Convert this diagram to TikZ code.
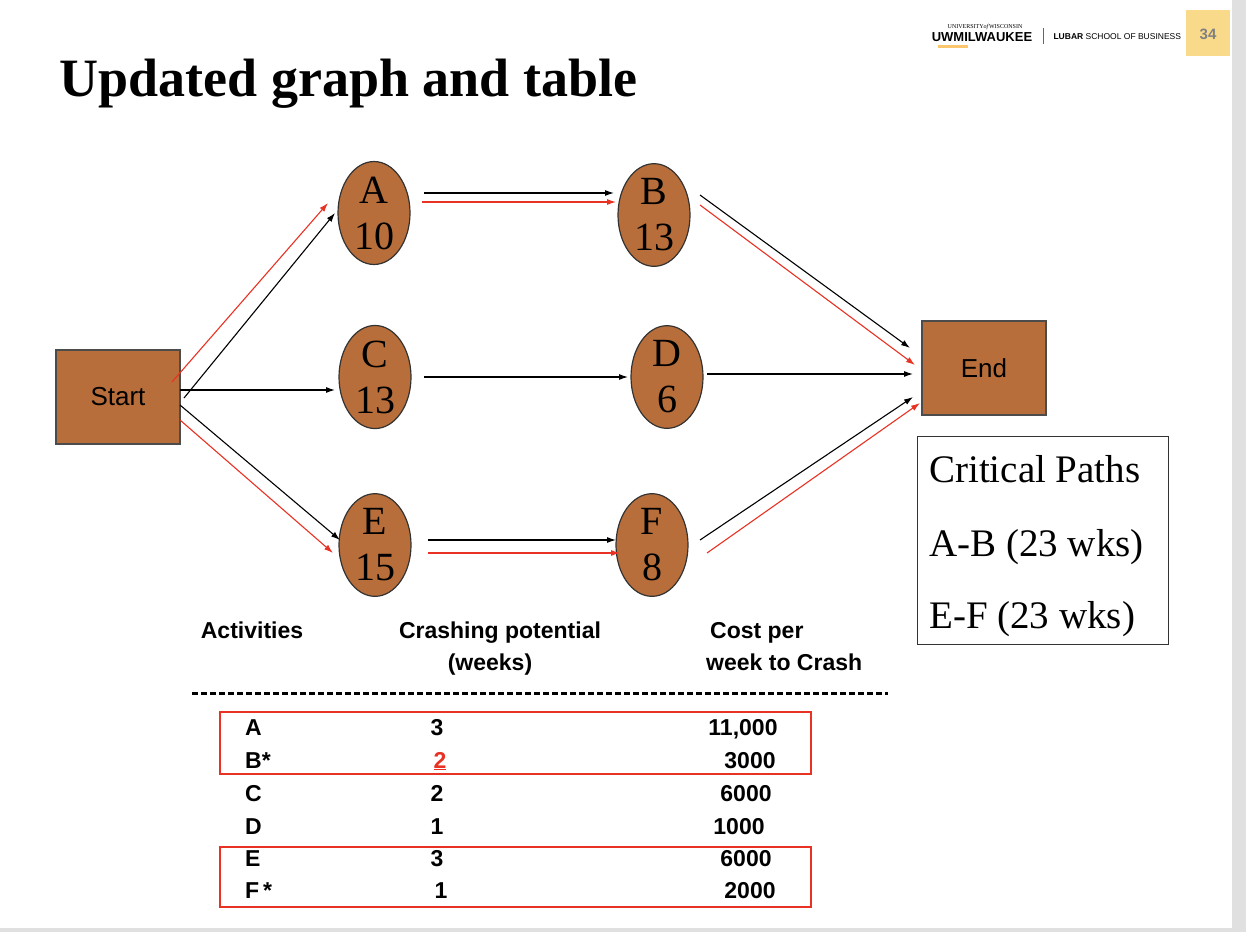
\documentclass[tikz,border=0pt]{standalone}
\usepackage{fontspec}
\setmainfont{Liberation Serif}
\setsansfont{Liberation Sans}
\usetikzlibrary{shapes.geometric,arrows.meta}
\definecolor{brn}{RGB}{183,110,58}
\definecolor{rd}{RGB}{232,50,35}
\definecolor{ylw}{RGB}{249,217,138}
\begin{document}
\begin{tikzpicture}[x=1pt,y=-1pt,
  act/.style={ellipse,draw=black!80,line width=1.2pt,fill=brn,minimum width=72pt,minimum height=100pt,inner sep=0pt,align=center,font=\fontsize{40}{46}\selectfont},
  term/.style={rectangle,draw=black!70,line width=1.5pt,fill=brn,minimum width=124pt,minimum height=94pt,font=\sffamily\fontsize{26}{30}\selectfont},
  blk/.style={-{Latex[length=9pt,width=6pt]},line width=1.1pt},
  red/.style={blk,draw=rd,-{Latex[length=9pt,width=6pt,color=rd]}},
  tb/.style={font=\sffamily\bfseries\fontsize{23}{26}\selectfont,inner sep=0pt,anchor=base},
  cpt/.style={font=\fontsize{39}{44}\selectfont,inner sep=0pt,anchor=base west},
  rbox/.style={draw=rd,line width=1.5pt}]
\fill[black!12] (0,0) rectangle (1246,932);
\fill[white] (0,0) rectangle (1232,928);
\useasboundingbox (0,0) rectangle (1246,932);
% header
\fill[ylw] (1186,10) rectangle (1230,56);
\node[font=\sffamily\bfseries\fontsize{15}{16}\selectfont,text=black!50] (pg) at (1208,34) {34};
\node[font=\fontsize{6}{6}\selectfont] (uw1) at (985,27) {UNIVERSITY\textit{of}WISCONSIN};
\node[font=\sffamily\bfseries\fontsize{13}{14}\selectfont,inner sep=0pt] (uw2) at (982,37) {UWMILWAUKEE};
\fill[ylw!80!orange] (938,45) rectangle (968,48);
\draw[black!60] (1043,28) -- (1043,44);
\node[font=\sffamily\fontsize{8.5}{10}\selectfont,anchor=west] (lub) at (1050,37) {\textbf{LUBAR} SCHOOL OF BUSINESS};
\node[font=\bfseries\fontsize{54}{60}\selectfont,anchor=west] (title) at (56,84) {Updated graph and table};
% nodes
\node[act] (A) at (374,213) {A\\10};
\node[act] (B) at (654,215) {B\\13};
\node[act] (C) at (375,377) {C\\13};
\node[act] (D) at (667,377) {D\\6};
\node[act] (E) at (375,545) {E\\15};
\node[act] (F) at (652,545) {F\\8};
\node[term] (S) at (118,397) {Start};
\node[term] (N) at (984,368) {End};
\draw[black!80,line width=1pt] (917,436) rectangle (1168,644);
\node[cpt] (cp1) at (929,482) {Critical Paths};
\node[cpt] (cp2) at (929,556) {A-B (23 wks)};
\node[cpt] (cp3) at (929,628) {E-F (23 wks)};
% coordinates
\foreach \n/\x/\y in {s1/180/390,c1/335/390,s2/184/398,a1/335/213,s3/180/405,e1/340/540,
 s4/172/382,a2/328/203,s5/180/420,e2/333/553,
 a3/424/193,b1/614/193,a4/422/202,b2/616/202,
 b3/700/195,n1/910/348,b4/700/205,n2/915/365,
 c2/424/377,d1/628/377,d2/707/374,n3/913/374,
 e3/428/540,f1/616/540,e4/428/553,f2/620/553,
 f3/700/540,n4/913/397,f4/707/553,n5/920/403}
  \coordinate (\n) at (\x,\y);
\draw[blk] (s1)--(c1);
\draw[blk] (s2)--(a1);
\draw[blk] (s3)--(e1);
\draw[red] (s4)--(a2);
\draw[red] (s5)--(e2);
\draw[blk] (a3)--(b1);
\draw[red] (a4)--(b2);
\draw[blk] (b3)--(n1);
\draw[red] (b4)--(n2);
\draw[blk] (c2)--(d1);
\draw[blk] (d2)--(n3);
\draw[blk] (e3)--(f1);
\draw[red] (e4)--(f2);
\draw[blk] (f3)--(n4);
\draw[red] (f4)--(n5);
% table
\node[tb] (h1) at (252,638) {Activities};
\node[tb] (h2) at (500,638) {Crashing potential};
\node[tb] (h3) at (490,670) {(weeks)};
\node[tb,anchor=base west] (h4) at (710,638) {Cost per};
\node[tb,anchor=base west] (h5) at (706,670) {week to Crash};
\draw[line width=3pt,dash pattern=on 6pt off 3pt] (192,693) -- (888,693);
\foreach \i/\a/\b/\c/\y/\cx in {1/A/3/{11,000}/735/743,2/B*/{}/3000/768/750,3/C/2/6000/801/746,4/D/1/1000/834/739,5/E/3/6000/866/746,6/{F\,*}/{}/2000/898/750}
{ \node[tb,anchor=base west] (r\i a) at (245,\y) {\a};
  \node[tb] (r\i b) at (437,\y) {\b};
  \node[tb] (r\i c) at (\cx,\y) {\c}; }
\node[tb,text=rd] (r2x) at (440,768) {\underline{2}};
\node[tb] (r6x) at (441,898) {1};
\draw[rbox] (220,712) rectangle (811,774);
\draw[rbox] (220,847) rectangle (811,907);
\end{tikzpicture}
\end{document}
